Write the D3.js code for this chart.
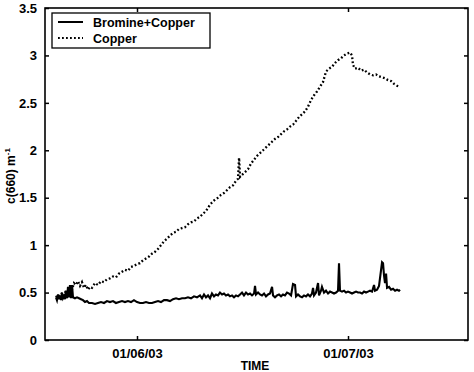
<!DOCTYPE html>
<html><head><meta charset="utf-8">
<script src="https://cdn.jsdelivr.net/npm/d3@7"></script>
<style>
body{margin:0;background:#fff;}
text{font-family:"Liberation Sans",Arial,sans-serif;font-weight:bold;fill:#000;}
</style></head>
<body>
<svg id="chart" width="474" height="372"></svg>
<script>
// time: days relative to 01/06/03
const copperDays = [-11.52,-11.23,-10.95,-10.66,-10.38,-10.10,-9.81,-9.53,-9.24,-8.96,-8.67,-8.39,-8.10,-7.82,-7.54,-7.25,-6.97,-6.68,-6.40,-5.97,-5.55,-5.12,-4.69,-4.27,-3.84,-3.41,-2.99,-2.56,-2.13,-1.71,-1.28,-0.85,-0.43,0,
0.43,0.85,1.28,1.71,2.13,2.56,2.99,3.41,3.84,4.27,4.69,5.12,5.55,5.97,6.40,6.83,7.25,7.68,8.10,8.53,8.96,9.38,9.81,10.24,10.66,11.09,11.52,11.94,12.37,12.80,13.22,13.65,14.08,14.36,14.51,14.65,14.93,15.36,15.78,16.21,16.64,17.06,17.49,17.92,18.34,18.77,19.20,19.62,20.05,20.48,20.90,21.33,21.76,22.18,22.61,23.03,23.46,23.89,24.31,24.74,25.17,25.59,26.02,26.45,26.87,27.30,27.73,28.15,28.58,29.01,29.43,29.86,30.29,30.57,30.71,31.00,31.42,31.85,32.28,32.70,33.13,33.56,33.98,34.41,34.84,35.26,35.69,36.12,36.54,36.97,37.40];
const copperValues = [0.45,0.48,0.44,0.50,0.47,0.52,0.50,0.55,0.53,0.60,0.58,0.62,0.57,0.61,0.55,0.58,0.53,0.56,0.55,0.60,0.58,0.62,0.61,0.64,0.65,0.67,0.66,0.70,0.72,0.74,0.73,0.77,0.78,0.80,
0.81,0.84,0.86,0.88,0.91,0.93,0.96,1.00,1.04,1.07,1.10,1.13,1.14,1.17,1.18,1.19,1.22,1.24,1.25,1.28,1.30,1.33,1.36,1.41,1.45,1.48,1.50,1.53,1.55,1.58,1.61,1.63,1.68,1.70,1.92,1.72,1.74,1.77,1.80,1.86,1.90,1.94,1.97,2.00,2.03,2.06,2.09,2.12,2.14,2.17,2.20,2.22,2.25,2.27,2.31,2.35,2.38,2.41,2.46,2.53,2.58,2.62,2.67,2.72,2.83,2.86,2.88,2.92,2.95,2.97,3.00,3.02,3.03,3.00,2.90,2.86,2.87,2.84,2.85,2.82,2.80,2.79,2.80,2.78,2.77,2.76,2.74,2.73,2.70,2.68,2.67];

const bromineDays = [-11.52,-11.38,-11.23,-11.09,-10.95,-10.81,-10.66,-10.52,-10.38,-10.24,-10.10,-9.95,-9.81,-9.67,-9.53,-9.38,-9.24,-9.10,-8.82,-8.53,-8.25,-7.96,-7.68,-7.39,-7.11,-6.83,-6.40,-5.97,-5.55,-5.12,-4.69,-4.27,-3.84,-3.41,-2.99,-2.56,-2.13,-1.71,-1.28,-0.85,-0.43,0,
0.43,0.85,1.28,1.71,2.13,2.56,2.99,3.41,3.84,4.27,4.69,5.12,5.55,5.97,6.40,6.83,7.25,7.68,8.10,8.53,8.96,9.24,9.53,9.81,10.10,10.38,10.66,10.95,11.23,11.52,11.80,12.09,12.37,12.65,12.94,13.22,13.51,13.79,14.08,14.36,14.65,14.93,15.21,15.50,15.78,16.07,16.35,16.64,16.78,16.92,17.21,17.49,17.77,18.06,18.34,18.63,18.91,19.20,19.34,19.62,19.91,20.19,20.48,20.76,21.04,21.33,21.61,21.90,22.18,22.47,22.61,22.89,23.18,23.46,23.75,24.03,24.31,24.60,24.88,25.03,25.17,25.45,25.74,25.88,26.16,26.30,26.59,26.87,27.16,27.44,27.73,28.01,28.30,28.58,28.72,28.86,29.15,29.43,29.72,30.00,30.29,30.57,30.86,31.14,31.42,31.71,31.99,32.28,32.56,32.85,33.13,33.42,33.70,33.84,34.13,34.41,34.70,34.84,34.98,35.12,35.26,35.41,35.55,35.83,36.12,36.40,36.69,36.97,37.25,37.40];
const bromineValues = [0.45,0.42,0.48,0.43,0.47,0.42,0.50,0.44,0.46,0.43,0.52,0.44,0.56,0.45,0.58,0.44,0.58,0.45,0.44,0.45,0.44,0.43,0.42,0.40,0.41,0.39,0.39,0.38,0.39,0.40,0.39,0.41,0.40,0.41,0.39,0.40,0.41,0.40,0.41,0.40,0.42,0.40,
0.39,0.39,0.40,0.39,0.39,0.40,0.41,0.40,0.42,0.42,0.41,0.43,0.44,0.43,0.44,0.44,0.45,0.44,0.46,0.45,0.47,0.44,0.48,0.45,0.47,0.44,0.49,0.46,0.48,0.47,0.50,0.48,0.49,0.47,0.48,0.46,0.47,0.45,0.47,0.46,0.48,0.50,0.47,0.50,0.48,0.49,0.47,0.49,0.57,0.48,0.50,0.48,0.47,0.49,0.46,0.48,0.49,0.56,0.47,0.45,0.47,0.48,0.46,0.48,0.47,0.50,0.49,0.47,0.59,0.58,0.46,0.48,0.46,0.45,0.47,0.46,0.48,0.46,0.49,0.55,0.47,0.50,0.60,0.47,0.52,0.56,0.50,0.52,0.49,0.51,0.50,0.49,0.50,0.52,0.81,0.52,0.51,0.52,0.50,0.51,0.50,0.49,0.50,0.51,0.50,0.50,0.49,0.51,0.50,0.51,0.52,0.51,0.58,0.52,0.53,0.57,0.74,0.82,0.81,0.68,0.60,0.70,0.55,0.56,0.53,0.54,0.52,0.53,0.52,0.53];

const yTicks = [0,0.5,1,1.5,2,2.5,3,3.5];
const xTickDays = [0,30];
const xTickLabels = ["01/06/03","01/07/03"];
const seriesNames = ["Bromine+Copper","Copper"];

const svg = d3.select("#chart");
const L=45, R=468, T=8, B=340;
const x = d3.scaleLinear().domain([-13.08,47.06]).range([L,R]);
const y = d3.scaleLinear().domain([0,3.5]).range([B,T]);

const line = d3.line().x(d=>x(d[0])).y(d=>y(d[1]));
const cu = copperDays.map((d,i)=>[d,copperValues[i]]);
const br = bromineDays.map((d,i)=>[d,bromineValues[i]]);

svg.append("path").datum(br).attr("d",line).attr("fill","none").attr("stroke","#000").attr("stroke-width",2.1).attr("stroke-linejoin","miter");
svg.append("path").datum(cu).attr("d",line).attr("fill","none").attr("stroke","#000").attr("stroke-width",2.3).attr("stroke-dasharray","1.8,2.2");

// axes
const yAxL = d3.axisLeft(y).tickValues(yTicks).tickFormat(d3.format("~g")).tickSizeInner(-4).tickSizeOuter(0).tickPadding(8);
const yAxR = d3.axisRight(y).tickValues(yTicks).tickFormat("").tickSizeInner(-4).tickSizeOuter(0);
const xAxB = d3.axisBottom(x).tickValues(xTickDays).tickFormat((d,i)=>xTickLabels[i]).tickSizeInner(-4).tickSizeOuter(0).tickPadding(9);
const xAxT = d3.axisTop(x).tickValues(xTickDays).tickFormat("").tickSizeInner(-4).tickSizeOuter(0);

function style(g){g.select(".domain").remove();g.selectAll("line").attr("stroke","#000").attr("stroke-width",1.5);g.selectAll("text").style("font-size","13px").style("font-family","'Liberation Sans',Arial,sans-serif").style("font-weight","bold").attr("fill","#000");}
svg.append("g").attr("transform",`translate(${L},0)`).call(yAxL).call(style);
svg.append("g").attr("transform",`translate(${R},0)`).call(yAxR).call(style);
svg.append("g").attr("transform",`translate(0,${B})`).call(xAxB).call(style);
svg.append("g").attr("transform",`translate(0,${T})`).call(xAxT).call(style);

svg.append("rect").attr("x",L).attr("y",T).attr("width",R-L).attr("height",B-T).attr("fill","none").attr("stroke","#000").attr("stroke-width",1.6);

// labels
svg.append("text").attr("x",255).attr("y",370).attr("text-anchor","middle").style("font-size","12px").text("TIME");
const yl = svg.append("text").attr("transform","translate(15,176) rotate(-90)").attr("text-anchor","middle").style("font-size","12px");
yl.append("tspan").text("c(660) m");
yl.append("tspan").attr("dy",-5).style("font-size","8px").text("-1");

// legend
const lg = svg.append("g");
lg.append("rect").attr("x",52).attr("y",13).attr("width",158).attr("height",35).attr("fill","#fff").attr("stroke","#000").attr("stroke-width",1.3);
const rows=[22,38];
seriesNames.forEach((n,i)=>{
  lg.append("line").attr("x1",58).attr("x2",83).attr("y1",rows[i]).attr("y2",rows[i]).attr("stroke","#000").attr("stroke-width",i===0?2:2.2).attr("stroke-dasharray",i===0?null:"1.8,2.2");
  lg.append("text").attr("x",93).attr("y",rows[i]+4.5).style("font-size","12.5px").text(n);
});
</script>
</body></html>
